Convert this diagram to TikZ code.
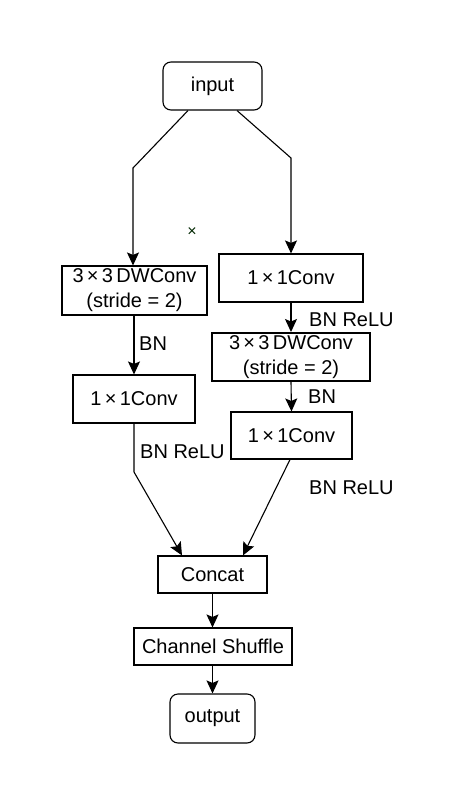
\documentclass[tikz,border=0pt]{standalone}
\usepackage{fontspec}
\setmainfont{Liberation Sans}
\usetikzlibrary{arrows.meta,calc}
\begin{document}
\begin{tikzpicture}[x=1pt,y=-1pt,
  every node/.style={font=\fontsize{20}{25}\selectfont},
  blk/.style={draw,line width=1.1pt,inner sep=0pt,align=center,anchor=center},
  rblk/.style={blk,rounded corners=8pt},
  lbl/.style={anchor=west,inner sep=0pt},
  con/.style={line width=1.1pt,-{Stealth[length=13pt,width=12pt,inset=2.5pt]}}]
\useasboundingbox (0,0) rectangle (474,805);
\node[rblk,minimum width=99pt,minimum height=48pt] (input) at (212.5,86) {input};
\node[blk,minimum width=145pt,minimum height=49pt] (L1) at (134.5,290.5) {3\,×\,3\,DWConv\\(stride = 2)};
\node[blk,minimum width=144pt,minimum height=48pt] (R1) at (291,278) {1\,×\,1Conv};
\node[blk,line width=2pt,minimum width=158pt,minimum height=48pt] (R2) at (291,357) {3\,×\,3\,DWConv\\(stride = 2)};
\node[blk,minimum width=121pt,minimum height=47pt] (R3) at (291.5,435.5) {1\,×\,1Conv};
\node[blk,minimum width=122pt,minimum height=48pt] (L2) at (134,399) {1\,×\,1Conv};
\node[blk,minimum width=109pt,minimum height=37pt] (concat) at (212.5,574.5) {Concat};
\node[blk,minimum width=158pt,minimum height=37pt] (shuffle) at (213,646.5) {Channel Shuffle};
\node[rblk,minimum width=85pt,minimum height=49pt] (output) at (212.5,718.5) {output};
\node[font=\fontsize{16}{18}\selectfont,text=black!85!green,inner sep=0pt] (mark) at (192,232) {×};
\coordinate (bl) at (133,168);
\coordinate (br) at (291,158);
\coordinate (bl2) at (134,472);
\draw[con] ($(input.south)+(-24.5,0)$) -- (bl) -- (bl|-L1.north);
\draw[con] ($(input.south)+(24.5,0)$) -- (br) -- (R1.north);
\draw[con] (L1.south -| L2.north) -- (L2.north);
\draw[con] (R1.south) -- (R2.north);
\draw[con] (R2.south) -- (R3.north);
\draw[con] (L2.south) -- (bl2) -- ($(concat.north)+(-30.5,0)$);
\draw[con] ($(R3.south)+(-1.5,0)$) -- ($(concat.north)+(30.5,0)$);
\draw[con] (concat.south) -- (concat.south|-shuffle.north);
\draw[con] (shuffle.south-|output.north) -- (output.north);
\node[lbl] (t1) at (139,344) {BN};
\node[lbl] (t2) at (309,320) {BN ReLU};
\node[lbl] (t3) at (308,397) {BN};
\node[lbl] (t4) at (140,452) {BN ReLU};
\node[lbl] (t5) at (309,488) {BN ReLU};
\end{tikzpicture}
\end{document}
